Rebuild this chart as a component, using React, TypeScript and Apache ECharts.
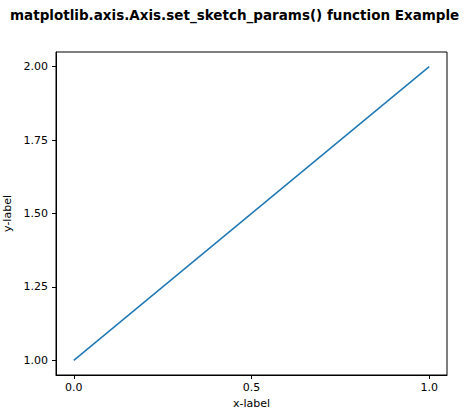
import React, { useEffect, useRef } from 'react';
import * as echarts from 'echarts';

const xValues = [0, 1];
const yValues = [1, 2];
const xTicks = [0, 0.5, 1];
const yTicks = [1, 1.25, 1.5, 1.75, 2];

const titleText = 'matplotlib.axis.Axis.set_sketch_params() function Example';
const font = 'DejaVu Sans';

const App = () => {
    const chartRef = useRef(null);

    useEffect(() => {
        const myChart = echarts.init(chartRef.current, null, { renderer: 'svg' });

        const frame = { show: true, onZero: false, lineStyle: { color: '#000', width: 1 } };

        myChart.setOption({
            animation: false,
            backgroundColor: '#fff',
            title: {
                text: titleText,
                left: 10,
                top: 8,
                padding: 0,
                textStyle: { fontFamily: font, fontSize: 13.5, fontWeight: 'bold', color: '#000' },
            },
            grid: {
                left: 56,
                right: 27,
                top: 52,
                bottom: 39,
                outerBoundsMode: 'none',
                show: true,
                borderColor: '#000',
                borderWidth: 1,
            },
            xAxis: {
                type: 'value',
                min: -0.05,
                max: 1.05,
                name: 'x-label',
                nameLocation: 'middle',
                nameGap: 23,
                nameTextStyle: { fontFamily: font, fontSize: 11, color: '#000' },
                axisLine: frame,
                axisTick: { show: true, length: 4, customValues: xTicks, lineStyle: { color: '#000' } },
                axisLabel: {
                    customValues: xTicks,
                    margin: 7,
                    fontFamily: font,
                    fontSize: 11,
                    color: '#000',
                    formatter: (v: number) => v.toFixed(1),
                },
                splitLine: { show: false },
            },
            yAxis: {
                type: 'value',
                min: 0.95,
                max: 2.05,
                name: 'y-label',
                nameLocation: 'middle',
                nameGap: 40,
                nameTextStyle: { fontFamily: font, fontSize: 11, color: '#000' },
                axisLine: frame,
                axisTick: { show: true, length: 4, customValues: yTicks, lineStyle: { color: '#000' } },
                axisLabel: {
                    customValues: yTicks,
                    margin: 8,
                    fontFamily: font,
                    fontSize: 11,
                    color: '#000',
                    formatter: (v: number) => v.toFixed(2),
                },
                splitLine: { show: false },
            },
            series: [
                {
                    type: 'line',
                    data: xValues.map((x, i) => [x, yValues[i]]),
                    showSymbol: false,
                    lineStyle: { color: '#1f77b4', width: 1.5 },
                },
            ],
        });

        return () => {
            myChart.dispose();
        };
    }, []);

    return (
        <div
            ref={chartRef}
            style={{ position: 'fixed', left: 0, top: 0, width: '474px', height: '414px' }}
        />
    );
};

export default App;
